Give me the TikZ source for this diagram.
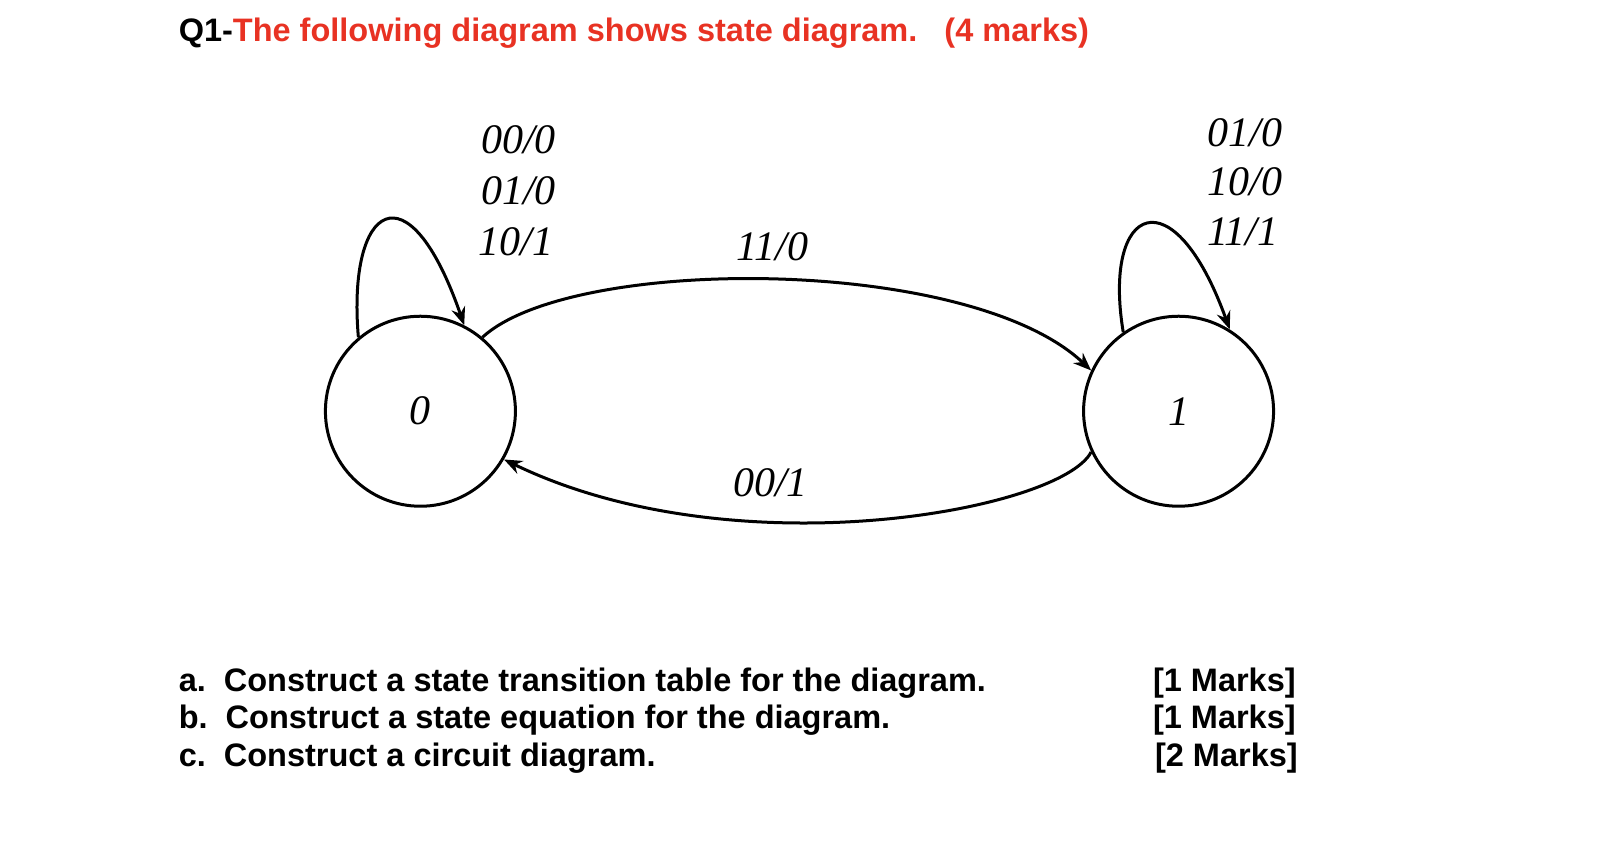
\documentclass[tikz,border=0pt]{standalone}
\usepackage{fontspec}
\setmainfont{Liberation Sans}
\newfontfamily\lbl{Liberation Serif}
\usetikzlibrary{arrows.meta}
\definecolor{qred}{RGB}{232,50,35}
\begin{document}
\begin{tikzpicture}[x=1.0204pt,y=-1.0204pt,
  st/.style={draw,circle,line width=3pt,minimum size=190pt,inner sep=0pt},
  lb/.style={font=\lbl\itshape\fontsize{42}{46}\selectfont,inner sep=0pt},
  tx/.style={font=\bfseries\fontsize{32.5}{36}\selectfont,inner sep=0pt,anchor=base west},
  edge/.style={line width=3pt,-{Stealth[length=18pt,width=14pt]}}]
\useasboundingbox (0,0) rectangle (1568,833);
\node[tx] (title) at (175,41) {Q1-\textcolor{qred}{The following diagram shows state diagram.\ \ \ (4 marks)}};
\node[st] (s0) at (412,403) {};
\node[st] (s1) at (1155,403) {};
\node[lb] at (s0) {0};
\node[lb] at (s1) {1};
\draw[edge] (s0.50) .. controls (560,250) and (950,250) .. (s1.155);
\draw[edge] (s1.205) .. controls (1040,500) and (720,560) .. (s0.-30);
\draw[edge] (s0.130) .. controls (340,200) and (400,160) .. (s0.63);
\draw[edge] (s1.125) .. controls (1080,200) and (1150,170) .. (s1.58);
\node[lb] (a1) at (508,137) {00/0};
\node[lb] (a2) at (508,187) {01/0};
\node[lb] (a3) at (506,237) {10/1};
\node[lb] (b1) at (1220,130) {01/0};
\node[lb] (b2) at (1220,178) {10/0};
\node[lb] (b3) at (1218,227) {11/1};
\node[lb] (t1) at (757,242) {11/0};
\node[lb] (t2) at (755,473) {00/1};
\node[tx] (qa) at (175,678) {a.\ \ Construct a state transition table for the diagram.};
\node[tx] (qb) at (175,714) {b.\ \ Construct a state equation for the diagram.};
\node[tx] (qc) at (175,751) {c.\ \ Construct a circuit diagram.};
\node[tx,anchor=base east] (ma) at (1270,678) {[1 Marks]};
\node[tx,anchor=base east] (mb) at (1270,714) {[1 Marks]};
\node[tx,anchor=base east] (mc) at (1272,751) {[2 Marks]};
\end{tikzpicture}
\end{document}
